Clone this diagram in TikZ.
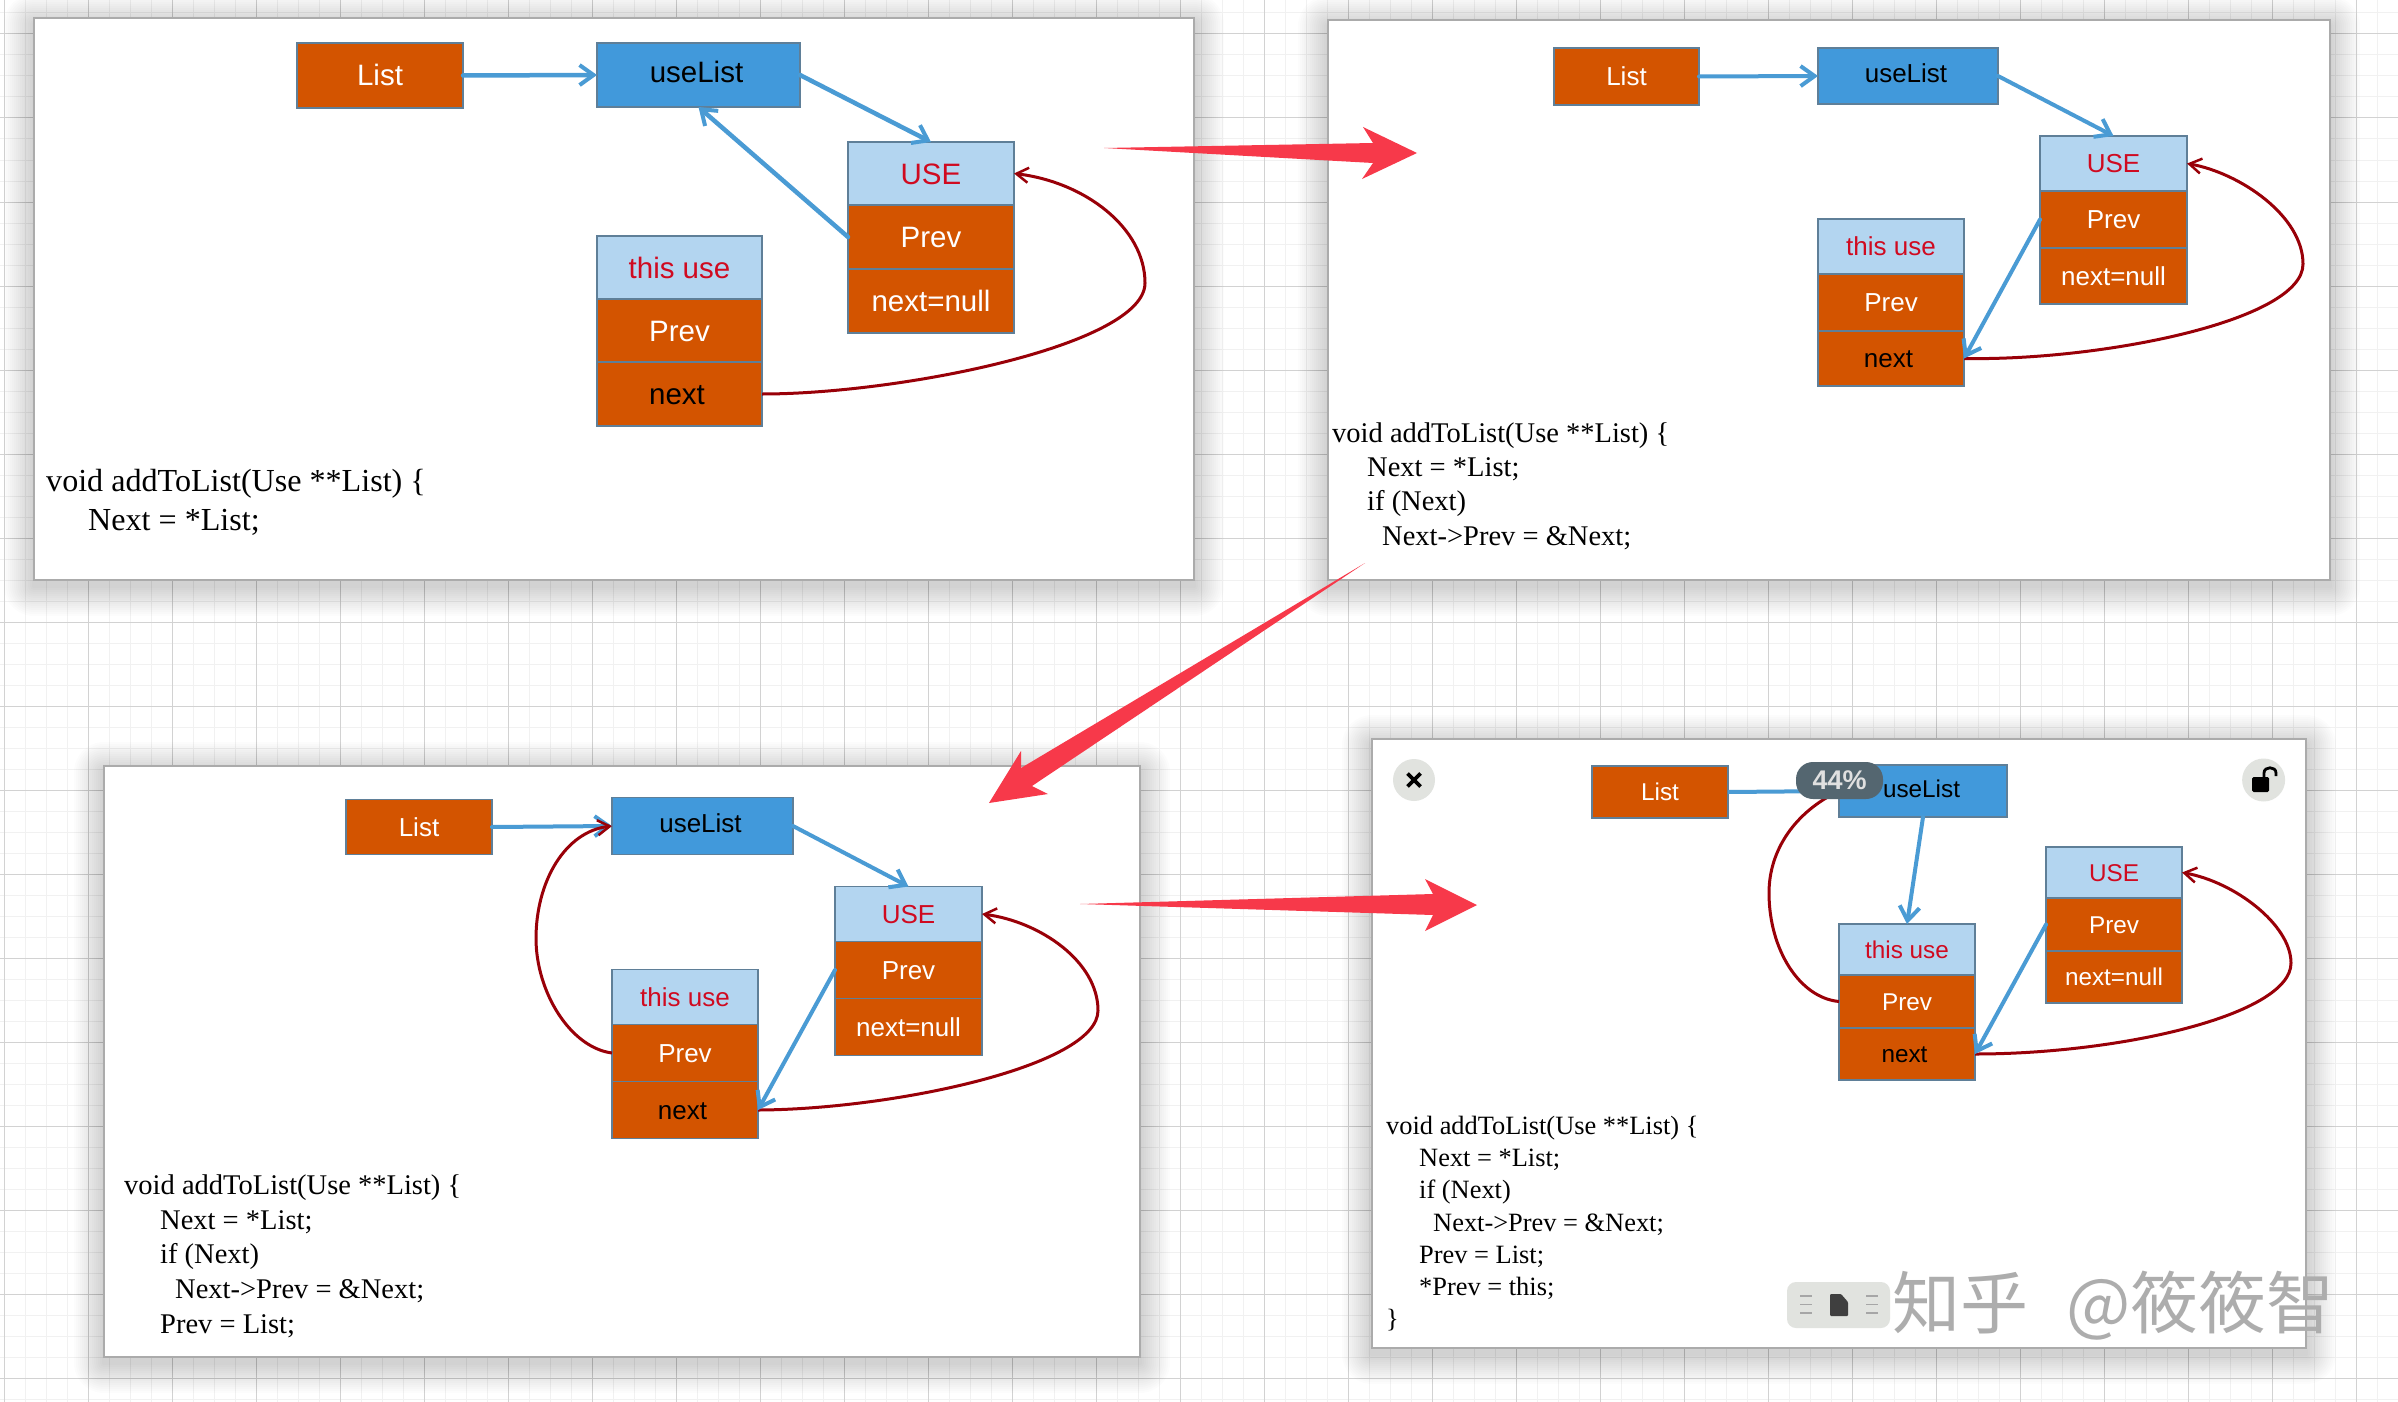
\documentclass[tikz,border=0pt]{standalone}
\usepackage{fontspec}
\setmainfont{Liberation Serif}
\setsansfont{Liberation Sans}
\newfontfamily\cjkfont{Noto Sans CJK SC}
\usetikzlibrary{arrows.meta,calc}
\definecolor{cellorange}{HTML}{D35400}
\definecolor{cellblue}{HTML}{4199DB}
\definecolor{celllight}{HTML}{B3D5F0}
\definecolor{cellline}{HTML}{5F7F98}
\definecolor{cellred}{HTML}{D00A20}
\definecolor{linkblue}{HTML}{4A9BD4}
\definecolor{linkred}{HTML}{990008}
\definecolor{bigred}{HTML}{F7394A}
\definecolor{gridmajor}{HTML}{D2D2D2}
\definecolor{gridminor}{HTML}{F1F1F1}
\definecolor{panelline}{HTML}{ABABAB}
\definecolor{chipgray}{HTML}{E1E3DF}
\definecolor{badgegray}{HTML}{546670}
\definecolor{markgray}{HTML}{ADADAD}
\definecolor{icondark}{HTML}{3F3F3F}
\tikzset{
  cellbase/.style={draw=cellline,line width=1.5pt,inner sep=0pt,outer sep=0pt,text depth=0pt},
  orangecell/.style={cellbase,fill=cellorange,text=white},
  nextcell/.style={cellbase,fill=cellorange,text=black},
  bluecell/.style={cellbase,fill=cellblue,text=black},
  lightcell/.style={cellbase,fill=celllight,text=cellred},
  pone/.style={font=\sffamily\fontsize{29.5}{29.5}\selectfont,text height=21pt},
  ptwo/.style={font=\sffamily\fontsize{26}{26}\selectfont,text height=18.6pt},
  pfour/.style={font=\sffamily\fontsize{24.3}{24.3}\selectfont,text height=17.4pt},
  bluelink/.style={draw=linkblue,line width=4pt,line cap=round,-{Straight Barb[length=14pt,width=20pt,line width=4pt]}},
  bluelinkwide/.style={bluelink,line width=4.5pt},
  redlink/.style={draw=linkred,line width=3pt,-{Straight Barb[length=12pt,width=15pt,line width=2.5pt]}},
  redplain/.style={draw=linkred,line width=3pt},
  codeone/.style={anchor=base west,inner sep=0pt,font=\fontsize{32.1}{32.1}\selectfont,text=black},
  codetwo/.style={anchor=base west,inner sep=0pt,font=\fontsize{28.5}{28.5}\selectfont,text=black},
  codefour/.style={anchor=base west,inner sep=0pt,font=\fontsize{26.4}{26.4}\selectfont,text=black},
  bigarrow/.style={fill=bigred,draw=none},
  watermark/.style={anchor=base west,inner sep=0pt,text=markgray,font=\cjkfont\fontsize{68}{68}\selectfont},
}
\newcommand{\cellbox}[7]{\node[#6,minimum width={#4-#2},minimum height={#5-#3}] (#1) at ({(#2+#4)/2},{(#3+#5)/2}) {#7};}
\newcommand{\paperpanel}[4]{
  \foreach \k in {2,4,...,30}{
    \fill[black,opacity=0.0105,rounded corners=\k pt] ({#1-\k},{#2-\k+6}) rectangle ({#3+\k},{#4+\k+6});
  }
  \fill[white] (#1,#2) rectangle (#3,#4);
  \draw[panelline,line width=1.5pt] (#1,#2) rectangle (#3,#4);
}
\begin{document}
\begin{tikzpicture}[x=1pt,y=-1pt]
\useasboundingbox (0,0) rectangle (2398,1402);
\fill[white] (0,0) rectangle (2398,1402);
% grid
\foreach \k in {0,...,114}{\draw[gridminor,line width=1pt] ({4.7+21*\k},0) -- ({4.7+21*\k},1402);}
\foreach \k in {0,...,66}{\draw[gridminor,line width=1pt] (0,{13+21*\k}) -- (2398,{13+21*\k});}
\foreach \k in {0,...,28}{\draw[gridmajor,line width=1pt] ({4.7+84*\k},0) -- ({4.7+84*\k},1402);}
\foreach \k in {0,...,16}{\draw[gridmajor,line width=1pt] (0,{34+84*\k}) -- (2398,{34+84*\k});}
% panels
\paperpanel{34}{18}{1194}{580}
\paperpanel{1328}{20}{2330}{580}
\paperpanel{104}{766}{1140}{1357}
\paperpanel{1372}{739}{2306}{1348}
% --- panel 1
\cellbox{aList}{297}{43}{463}{108}{orangecell,pone}{List}
\cellbox{aHead}{597}{43}{800}{107}{bluecell,pone}{\raisebox{2.5pt}{useList}\kern4pt}
\cellbox{aThis}{597}{236}{762}{299}{lightcell,pone}{this use}
\cellbox{aThisPrev}{597}{299}{762}{362}{orangecell,pone}{Prev}
\cellbox{aThisNext}{597}{362}{762}{426}{nextcell,pone}{next\kern5pt}
\cellbox{aUse}{848}{142}{1014}{205}{lightcell,pone}{USE}
\cellbox{aUsePrev}{848}{205}{1014}{269}{orangecell,pone}{Prev}
\cellbox{aUseNext}{848}{269}{1014}{333}{orangecell,pone}{next=null}
\draw[bluelinkwide] (aList.east) -- (aHead.west);
\draw[bluelinkwide] (aHead.east) -- (aUse.north);
\draw[bluelinkwide] (aUsePrev.west) -- (aHead.south);
\draw[redlink] (aThisNext.east) .. controls (900,394) and (1145,345) .. (1145,283) .. controls (1145,228) and (1085,182) .. (aUse.east);
\node[codeone] (aCodeA) at (46,491) {void addToList(Use **List) \{};
\node[codeone] (aCodeB) at (88,530) {Next = *List;};
% --- panel 2
\begin{scope}[yshift=-1pt]
\cellbox{bList}{1554}{47}{1699}{104}{orangecell,ptwo}{List}
\cellbox{bHead}{1818}{47}{1998}{103}{bluecell,ptwo}{\raisebox{2.5pt}{useList}\kern4pt}
\cellbox{bThis}{1818}{218}{1964}{273}{lightcell,ptwo}{this use}
\cellbox{bThisPrev}{1818}{273}{1964}{330}{orangecell,ptwo}{Prev}
\cellbox{bThisNext}{1818}{330}{1964}{385}{nextcell,ptwo}{next\kern5pt}
\cellbox{bUse}{2040}{135}{2187}{190}{lightcell,ptwo}{USE}
\cellbox{bUsePrev}{2040}{190}{2187}{247}{orangecell,ptwo}{Prev}
\cellbox{bUseNext}{2040}{247}{2187}{303}{orangecell,ptwo}{next=null}
\draw[bluelink] (bList.east) -- (bHead.west);
\draw[bluelink] (bHead.east) -- (bUse.north);
\draw[redlink] (bThisNext.east) .. controls (2100,360) and (2303,320) .. (2303,263) .. controls (2303,215) and (2240,172) .. (bUse.east);
\draw[bluelink] (bUsePrev.west) -- (bThisNext.east);
\end{scope}
\node[codetwo] (bCodeA) at (1332,442) {void addToList(Use **List) \{};
\node[codetwo] (bCodeB) at (1367,476) {Next = *List;};
\node[codetwo] (bCodeC) at (1367,510) {if (Next)};
\node[codetwo] (bCodeD) at (1382,545) {Next->Prev = \&Next;};
% --- panel 3
\begin{scope}[yshift=-1.5pt]
\cellbox{cList}{346}{798}{492}{853}{orangecell,ptwo}{List}
\cellbox{cHead}{612}{796}{793}{853}{bluecell,ptwo}{\raisebox{2.5pt}{useList}\kern4pt}
\cellbox{cThis}{612}{968}{758}{1023}{lightcell,ptwo}{this use}
\cellbox{cThisPrev}{612}{1023}{758}{1080}{orangecell,ptwo}{Prev}
\cellbox{cThisNext}{612}{1080}{758}{1137}{nextcell,ptwo}{next\kern5pt}
\cellbox{cUse}{835}{885}{982}{940}{lightcell,ptwo}{USE}
\cellbox{cUsePrev}{835}{940}{982}{997}{orangecell,ptwo}{Prev}
\cellbox{cUseNext}{835}{997}{982}{1054}{orangecell,ptwo}{next=null}
\draw[bluelink] (cList.east) -- (cHead.west);
\draw[bluelink] (cHead.east) -- (cUse.north);
\draw[redlink] (cThisNext.east) .. controls (890,1108) and (1098,1065) .. (1098,1009) .. controls (1098,960) and (1040,920) .. (cUse.east);
\draw[bluelink] (cUsePrev.west) -- (cThisNext.east);
\draw[redlink] (cThisPrev.west) .. controls (570,1046) and (536,990) .. (536,937) .. controls (536,880) and (565,830) .. (cHead.west);
\node[codetwo] (cCodeA) at (124,1193) {void addToList(Use **List) \{};
\node[codetwo] (cCodeB) at (160,1228) {Next = *List;};
\node[codetwo] (cCodeC) at (160,1262) {if (Next)};
\node[codetwo] (cCodeD) at (175,1297) {Next->Prev = \&Next;};
\node[codetwo] (cCodeE) at (160,1332) {Prev = List;};
\end{scope}
% --- panel 4
\cellbox{dList}{1592}{766}{1728}{818}{orangecell,pfour}{List}
\cellbox{dHead}{1839}{765}{2007}{817}{bluecell,pfour}{\raisebox{2pt}{useList}\kern3pt}
\cellbox{dThis}{1839}{924}{1975}{975}{lightcell,pfour}{this use}
\cellbox{dThisPrev}{1839}{975}{1975}{1028}{orangecell,pfour}{Prev}
\cellbox{dThisNext}{1839}{1028}{1975}{1080}{nextcell,pfour}{next\kern5pt}
\cellbox{dUse}{2046}{847}{2182}{898}{lightcell,pfour}{USE}
\cellbox{dUsePrev}{2046}{898}{2182}{951}{orangecell,pfour}{Prev}
\cellbox{dUseNext}{2046}{951}{2182}{1003}{orangecell,pfour}{next=null}
\draw[draw=linkblue,line width=4pt] (dList.east) -- (dHead.west);
\draw[redplain] (dThisPrev.west) .. controls (1800,998) and (1769,950) .. (1769,893) .. controls (1769,850) and (1795,812) .. (dHead.west);
\draw[bluelink] (dHead.south) -- (dThis.north);
\draw[redlink] (dThisNext.east) .. controls (2120,1054) and (2291,1015) .. (2291,963) .. controls (2291,925) and (2235,882) .. (dUse.east);
\draw[bluelink] (dUsePrev.west) -- (dThisNext.east);
\node[fill=badgegray,text=white!88!black,rounded corners=17pt,minimum width=87pt,minimum height=37pt,inner sep=0pt,font=\sffamily\bfseries\fontsize{27}{27}\selectfont] (dBadge) at (1839.5,780.5) {44\%};
\node[codefour] (dCodeA) at (1386,1134) {void addToList(Use **List) \{};
\node[codefour] (dCodeB) at (1419,1166) {Next = *List;};
\node[codefour] (dCodeC) at (1419,1198) {if (Next)};
\node[codefour] (dCodeD) at (1433,1231) {Next->Prev = \&Next;};
\node[codefour] (dCodeE) at (1419,1263) {Prev = List;};
\node[codefour] (dCodeF) at (1419,1295) {*Prev = this;};
\node[codefour] (dCodeG) at (1386,1327) {\}};
% close chip
\fill[chipgray] (1414,780) circle (21);
\draw[black,line width=3.6pt] (1407.5,773.5) -- (1420.5,786.5) (1407.5,786.5) -- (1420.5,773.5);
% lock chip
\fill[chipgray] (2263.6,780) circle (21.5);
\fill[black,rounded corners=1.5pt] (2252,777) rectangle (2269,792);
\draw[black,line width=2.8pt] (2264,777) -- (2264,773) .. controls (2264,766) and (2276,766) .. (2276,773) -- (2276,776);
% toolbar chip
\fill[chipgray,rounded corners=9pt] (1787,1282) rectangle (1890,1328);
\foreach \yy in {1296,1304.5,1313}{
  \draw[gray!70,line width=1.6pt] (1800,\yy) -- (1812,\yy) (1866,\yy) -- (1878,\yy);
}
\fill[icondark,rounded corners=1pt] (1830,1294) -- (1841,1294) -- (1848,1302) -- (1848,1316) -- (1830,1316) -- cycle;
% watermark
\node[watermark] (markA) at (1892,1328) {知乎};
\node[watermark] (markB) at (2066,1328) {@筱筱智};
% big red arrows
\fill[bigarrow] (1104,148) -- (1373,143) -- (1363,127) -- (1417,153) -- (1362,179) -- (1373,163) -- cycle;
\fill[bigarrow] (1365,563) -- (1032,786) -- (1048,794) -- (989,803) -- (1021,751) -- (1021,768) -- cycle;
\fill[bigarrow] (1080,904) -- (1433,894) -- (1425,879) -- (1477,905) -- (1425,931) -- (1433,915) -- cycle;
\end{tikzpicture}
\end{document}
